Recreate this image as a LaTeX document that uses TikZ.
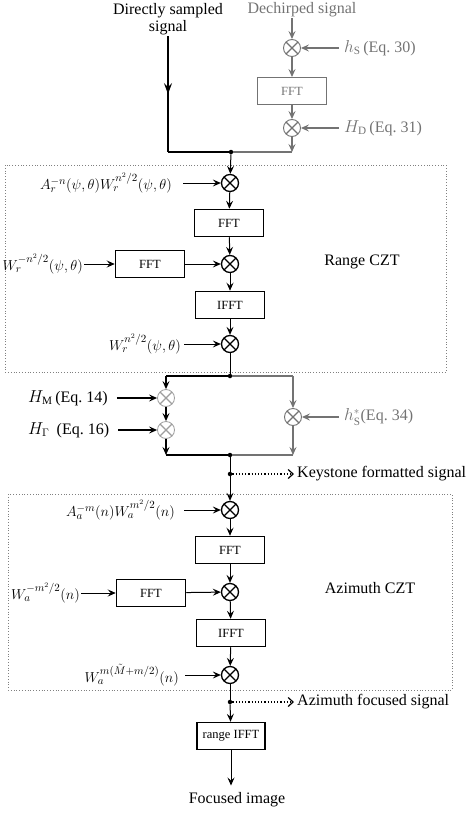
\documentclass[tikz,border=0pt]{standalone}
\usepackage{fontspec}
\setmainfont{Liberation Serif}
\usepackage{amsmath}
\usepackage{tikz}
\usetikzlibrary{arrows.meta,positioning,decorations.markings}
\definecolor{dechgray}{gray}{0.45}
\definecolor{keygray}{gray}{0.62}

\begin{document}
\begin{tikzpicture}[
    x=1pt, y=-1pt,
    xmult/.style={circle, draw=#1, line width=1.3pt, minimum size=17pt, inner sep=0pt,
                  path picture={\draw[#1, line width=1.1pt]
                      (path picture bounding box.north west) -- (path picture bounding box.south east)
                      (path picture bounding box.north east) -- (path picture bounding box.south west);}},
    mult/.style={xmult=black},
    gmult/.style={xmult=dechgray, line width=0.9pt},
    kmult/.style={xmult=keygray, line width=0.8pt},
    block/.style={rectangle, draw, line width=1.5pt, minimum width=69pt, minimum height=27pt,
                  font=\fontsize{12.5}{14}\selectfont},
    gblock/.style={block, draw=dechgray, text=dechgray, line width=0.9pt},
    txt/.style={font=\fontsize{16}{17.5}\selectfont, inner sep=1pt, align=center},
    eq/.style={font=\fontsize{15}{17}\selectfont, inner sep=1pt},
    arr/.style={draw, line width=1pt, -{Stealth[length=8pt, width=7pt, inset=3pt]}},
    sig/.style={line width=2.2pt},
    gsig/.style={line width=2pt, dechgray},
    garr/.style={arr, dechgray, line width=1.6pt},
    dot/.style={circle, fill, inner sep=0pt, minimum size=4.5pt},
    czt/.style={draw=gray, dotted, line width=0.8pt},
    dotarr/.style={dotted, line width=1.2pt, -{Straight Barb[length=5pt, width=9pt]}},
    midarr/.style={postaction={decorate}, decoration={markings,
                   mark=at position 0.5 with {\arrow{Stealth[length=11pt, width=8pt, inset=4pt]}}}}
]
\useasboundingbox (0,0) rectangle (474,825);

% Inputs
\node [txt] (dsig) at (168,19) {Directly sampled\\signal};
\node [txt, text=dechgray] (dech) at (302,10) {Dechirped signal};
\coordinate (tl) at (168,152);
\node [dot] (j1) at (231,152) {};
\coordinate (tr) at (292,152);

% Dechirped branch
\node [gmult] (g1) at (292,48) {};
\node [gblock] (gfft) at (292,91) {FFT};
\node [gmult] (g2) at (292,128) {};
\node [txt, text=dechgray, anchor=west] (hs) at (343,48) {$h_{\mathrm{S}}$\,(Eq.~30)};
\node [txt, text=dechgray, anchor=west] (hd) at (343,128) {$H_{\mathrm{D}}$\,(Eq.~31)};

\draw [sig, midarr] (dsig) -- (tl);
\draw [sig] (tl) -- (j1);
\draw [gsig] (j1) -- (tr);
\draw [garr] (dech.south -| g1) -- (g1);
\draw [garr] (g1) -- (gfft);
\draw [garr] (gfft) -- (g2);
\draw [garr] (g2) -- (tr);
\draw [garr, shorten <=4pt] (hs) -- (g1);
\draw [garr, shorten <=4pt] (hd) -- (g2);

% Range CZT
\draw [czt] (5,165) rectangle (446,372);
\node [mult] (r1) at (230,183) {};
\node [block] (rfft) at (229,223) {FFT};
\node [mult] (r2) at (230,264) {};
\node [block] (rifft) at (230,305) {IFFT};
\node [mult] (r3) at (230,344) {};
\node [block] (rwfft) at (150,264) {FFT};
\node [eq, anchor=east] (r1eq) at (173,183) {$A_r^{-n}(\psi,\theta)W_r^{n^2/2}(\psi,\theta)$};
\node [eq, anchor=east] (r2eq) at (84,264) {$W_r^{-n^2/2}(\psi,\theta)$};
\node [eq, anchor=east] (r3eq) at (182,344) {$W_r^{n^2/2}(\psi,\theta)$};
\node [txt] (rczt) at (362,262) {Range CZT};
\node [dot] (j2) at (230,376) {};

\draw [arr] (j1) -- (r1);
\draw [arr] (r1) -- (rfft);
\draw [arr] (rfft) -- (r2);
\draw [arr] (r2) -- (rifft);
\draw [arr] (rifft) -- (r3);
\draw [line width=1pt] (r3) -- (j2);
\draw [arr, shorten <=10pt] (r1eq) -- (r1);
\draw [arr] (r2eq) -- (rwfft);
\draw [arr] (rwfft) -- (r2);
\draw [arr, shorten <=2pt] (r3eq) -- (r3);

% Keystone formatting
\coordinate (kl) at (166,376);
\coordinate (kr) at (293,376);
\coordinate (klb) at (166,455);
\coordinate (krb) at (293,455);
\node [kmult] (k1) at (166,398) {};
\node [kmult] (k2) at (166,430) {};
\node [gmult] (ks) at (293,417) {};
\node [txt, anchor=west] (hm) at (27,398) {$H_{\mathrm{M}}$\,(Eq.~14)};
\node [txt, anchor=west] (hg) at (27,430) {$H_{\Gamma}$\;\,(Eq.~16)};
\node [txt, text=dechgray, anchor=west] (hss) at (343,417) {$h_{\mathrm{S}}^{*}$(Eq.~34)};
\node [dot] (j3) at (230,455) {};
\node [dot] (j4) at (230,474) {};
\node [txt, anchor=west] (keys) at (296,474) {Keystone formatted signal};

\draw [sig] (j2) -- (kl);
\draw [gsig] (j2) -- (kr);
\draw [arr, sig] (kl) -- (k1);
\draw [arr, sig] (k1) -- (k2);
\draw [arr, sig] (k2) -- (klb);
\draw [sig] (klb) -- (j3);
\draw [garr] (kr) -- (ks);
\draw [garr] (ks) -- (krb);
\draw [gsig] (krb) -- (j3);
\draw [arr, line width=1.8pt, shorten <=8pt] (hm) -- (k1);
\draw [arr, line width=1.8pt, shorten <=8pt] (hg) -- (k2);
\draw [garr, shorten <=4pt] (hss) -- (ks);
\draw [line width=1pt] (j3) -- (j4);
\draw [dotarr, shorten >=2pt] (j4) -- (keys);

% Azimuth CZT
\draw [czt] (8,494) rectangle (452,690);
\node [mult] (a1) at (230,510) {};
\node [block] (afft) at (230,550) {FFT};
\node [mult] (a2) at (230,592) {};
\node [block] (aifft) at (231,633) {IFFT};
\node [mult] (a3) at (230,675) {};
\node [block] (awfft) at (151,593) {FFT};
\node [eq, anchor=east] (a1eq) at (176,510) {$A_a^{-m}(n)W_a^{m^2/2}(n)$};
\node [eq, anchor=east] (a2eq) at (81,593) {$W_a^{-m^2/2}(n)$};
\node [eq, anchor=east] (a3eq) at (180,675) {$W_a^{m(\tilde{M}+m/2)}(n)$};
\node [txt] (aczt) at (370,588) {Azimuth CZT};
\node [dot] (j5) at (230,702) {};
\node [txt, anchor=west] (afoc) at (296,702) {Azimuth focused signal};

\draw [arr] (j4) -- (a1);
\draw [arr] (a1) -- (afft);
\draw [arr] (afft) -- (a2);
\draw [arr] (a2) -- (aifft);
\draw [arr] (aifft) -- (a3);
\draw [line width=1pt] (a3) -- (j5);
\draw [arr, shorten <=8pt] (a1eq) -- (a1);
\draw [arr] (a2eq) -- (awfft);
\draw [arr] (awfft) -- (a2);
\draw [arr, shorten <=5pt] (a3eq) -- (a3);
\draw [dotarr, shorten >=2pt] (j5) -- (afoc);

% Output
\node [block, minimum width=68pt] (rng) at (231,736) {range IFFT};
\node [txt] (foc) at (237,800) {Focused image};
\draw [arr] (j5) -- (rng);
\draw [arr, shorten >=6pt] (rng) -- (rng |- foc.north);

\end{tikzpicture}
\end{document}
